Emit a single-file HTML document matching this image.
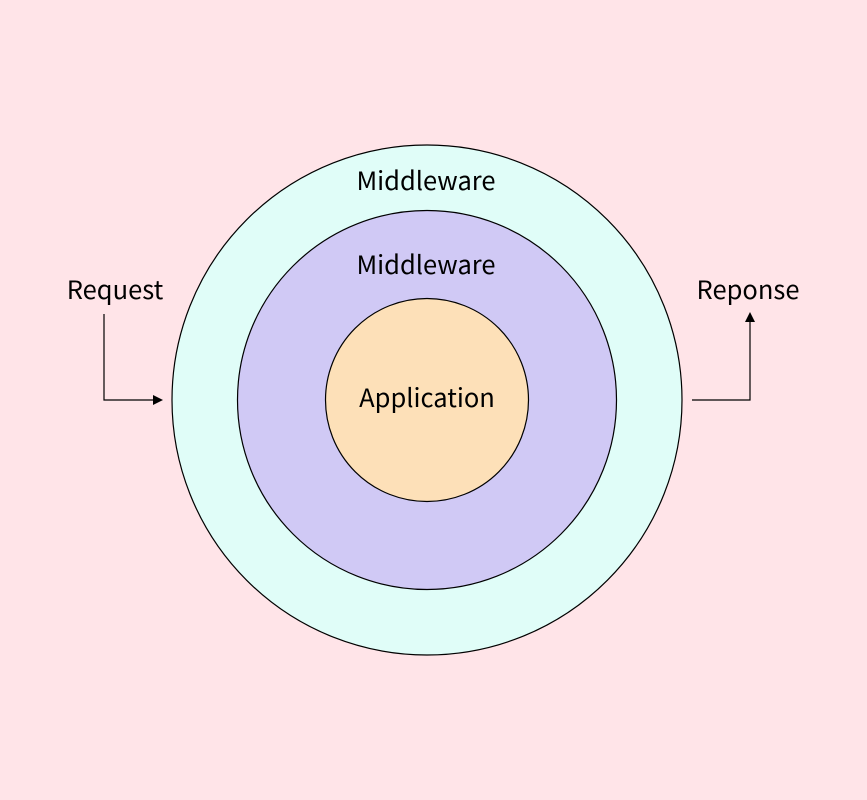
<!DOCTYPE html>
<html><head><meta charset="utf-8"><style>
html,body{margin:0;padding:0;background:#ffe4e8;}
svg{display:block}
text{font-family:"Noto Sans CJK SC","Liberation Sans",sans-serif;font-size:25.5px;fill:#000}
</style></head><body>
<svg width="867" height="800" viewBox="0 0 867 800">
<rect width="867" height="800" fill="#ffe4e8"/>
<circle cx="427" cy="400" r="255" fill="#e0fdf8" stroke="#000" stroke-width="1.2"/>
<circle cx="427" cy="400" r="189.5" fill="#d0c9f5" stroke="#000" stroke-width="1.2"/>
<circle cx="427" cy="400" r="101.5" fill="#fde0b8" stroke="#000" stroke-width="1.2"/>
<text x="426" y="190" text-anchor="middle">Middleware</text>
<text x="426" y="274" text-anchor="middle">Middleware</text>
<text x="427" y="407" text-anchor="middle">Application</text>
<text x="115" y="299" text-anchor="middle">Request</text>
<text x="748" y="299" text-anchor="middle">Reponse</text>
<polyline points="104,314 104,400 154,400" fill="none" stroke="#000" stroke-width="1.2"/>
<polygon points="163,400 153,395 153,405" fill="#000"/>
<polyline points="692,400 750,400 750,321" fill="none" stroke="#000" stroke-width="1.2"/>
<polygon points="750,312 745,322 755,322" fill="#000"/>
</svg>
</body></html>
